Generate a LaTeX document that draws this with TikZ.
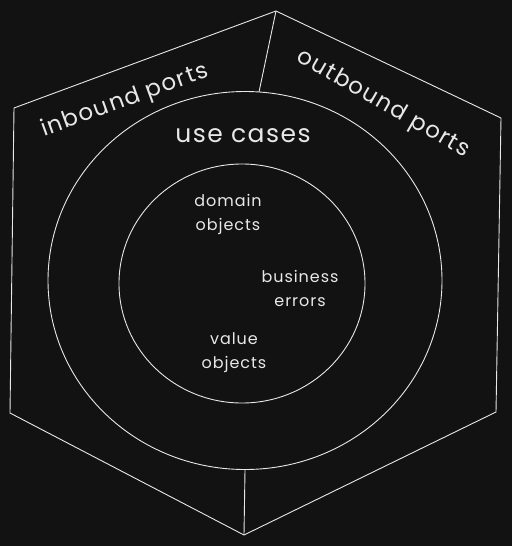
\documentclass[tikz,border=0pt]{standalone}
\usepackage{fontspec}
\setmainfont{Poppins}[LetterSpace=6]
\definecolor{bg}{HTML}{121212}
\definecolor{ink}{HTML}{E8E8E8}
\tikzset{
  edge/.style={draw=ink, line width=0.9pt, line join=round},
  big/.style={text=ink, font=\fontsize{23}{24}\selectfont, inner sep=0pt},
  small/.style={text=ink, font=\fontsize{16}{24}\selectfont, align=center, inner sep=0pt},
}
\begin{document}
\begin{tikzpicture}[x=1pt,y=-1pt]
\fill[bg] (0,0) rectangle (512,546);
\useasboundingbox (0,0) rectangle (512,546);
% hexagon vertices
\coordinate (T) at (276,11);
\coordinate (UR) at (501,118);
\coordinate (LR) at (496,412);
\coordinate (B) at (244,535);
\coordinate (LL) at (10,413);
\coordinate (UL) at (14,108);
\draw[edge] (T) -- (UR) -- (LR) -- (B) -- (LL) -- (UL) -- cycle;
% circles
\draw[edge] (245,280.5) ellipse [x radius=197, y radius=189];
\draw[edge] (242,283.5) ellipse [x radius=123, y radius=119.5];
\coordinate (OT) at (259,92);
\coordinate (OB) at (245,470);
\draw[edge] (T) -- (OT);
\draw[edge] (B) -- (OB);
% labels
\node[big, rotate=20] (inb) at (125,101) {inbound ports};
\node[big, rotate=-30] (outb) at (383,104) {outbound ports};
\node[big, font=\fontsize{25}{26}\selectfont] (uc) at (243,136) {use cases};
\node[small] (dom) at (228,214) {domain\\objects};
\node[small] (be) at (300,288) {business\\errors};
\node[small] (vo) at (234,353) {value\\objects};
\end{tikzpicture}
\end{document}
